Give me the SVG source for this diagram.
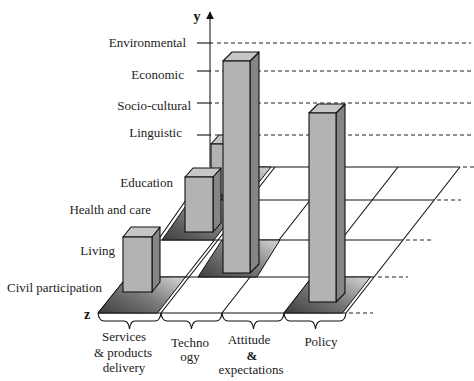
<svg xmlns="http://www.w3.org/2000/svg" width="474" height="381" viewBox="0 0 474 381">
<defs>
<linearGradient id="tileGrad" x1="0" y1="1" x2="1" y2="0.2">
<stop offset="0" stop-color="#3e3e3e"/>
<stop offset="0.55" stop-color="#7a7a7a"/>
<stop offset="1" stop-color="#c8c8c8"/>
</linearGradient>
<marker id="arrow" viewBox="0 0 10 10" refX="9" refY="5" markerWidth="8" markerHeight="10" markerUnits="userSpaceOnUse" orient="auto">
<path d="M0,0 L10,5 L0,10 z" fill="#111"/>
</marker>
<style>
text{font-family:'Liberation Serif','Times New Roman',serif;font-size:13px;fill:#222}
.axl{font-weight:bold;font-size:14px;fill:#111}
.lbl{text-anchor:end}
.col{text-anchor:middle}
.tick{stroke:#222;stroke-width:1.2;fill:none}
.dash{stroke:#222;stroke-width:1.2;stroke-dasharray:4 3;fill:none}
.grid{stroke:#111;stroke-width:1.1;fill:none}
.tile{fill:url(#tileGrad);stroke:#111;stroke-width:1}
.front{fill:#b3b3b3;stroke:#111;stroke-width:1.1}
.top{fill:#c6c6c6;stroke:#111;stroke-width:1.1;stroke-linejoin:round}
.side{fill:#858585;stroke:#111;stroke-width:1.1;stroke-linejoin:round}
.brace{stroke:#111;stroke-width:1.1;fill:none}
</style>
</defs>
<rect width="474" height="381" fill="#fff"/>

<g id="connectors">
<line x1="210" y1="167" x2="210" y2="12" stroke="#333" stroke-width="1.2" marker-end="url(#arrow)"/>
<line class="tick" x1="197" y1="43" x2="213" y2="43"/><line class="dash" x1="217" y1="43" x2="471" y2="43"/>
<line class="tick" x1="197" y1="71" x2="211" y2="71"/><line class="dash" x1="215" y1="71" x2="471" y2="71"/>
<line class="tick" x1="197" y1="103" x2="212" y2="103"/><line class="dash" x1="215" y1="103" x2="471" y2="103"/>
<line class="tick" x1="197" y1="135" x2="211" y2="135"/><line class="dash" x1="215" y1="135" x2="471" y2="135"/>

<line class="grid" x1="98" y1="313" x2="346" y2="313"/><line class="dash" x1="349" y1="313" x2="373" y2="313"/>
<line class="grid" x1="127" y1="277" x2="374" y2="277"/><line class="dash" x1="378" y1="277" x2="408" y2="277"/>
<line class="grid" x1="158" y1="240" x2="403" y2="240"/><line class="dash" x1="406" y1="240" x2="433" y2="240"/>
<line class="grid" x1="186" y1="200" x2="434" y2="200"/><line class="dash" x1="437" y1="200" x2="461" y2="200"/>
<line class="grid" x1="212" y1="167" x2="460" y2="167"/><line class="dash" x1="463" y1="167" x2="474" y2="167"/>
<polyline class="grid" points="98,313 127,277 158,240 186,200 212,167"/>
<line class="grid" x1="161" y1="313" x2="275" y2="167"/>
<line class="grid" x1="222" y1="313" x2="336" y2="167"/>
<line class="grid" x1="284" y1="313" x2="398" y2="167"/>
<line class="grid" x1="346" y1="313" x2="460" y2="167"/>
<line class="grid" x1="185.5" y1="277" x2="214.5" y2="240"/>

<path class="brace" d="M98,313 Q99,321 104,321 L124,321 Q128.5,321 129.5,329 Q130.5,321 135,321 L155,321 Q160,321 161,313"/>
<path class="brace" d="M161,313 Q162,321 167,321 L186,321 Q190.5,321 191.5,329 Q192.5,321 197,321 L216,321 Q221,321 222,313"/>
<path class="brace" d="M222,313 Q223,321 228,321 L248,321 Q252.5,321 253.5,329 Q254.5,321 259,321 L278,321 Q283,321 284,313"/>
<path class="brace" d="M284,313 Q285,321 290,321 L310,321 Q314.5,321 315.5,329 Q316.5,321 321,321 L340,321 Q345,321 346,313"/>
</g>

<g id="tiles">
<polygon id="tile-services-civil" class="tile" points="98,313 157.5,313 185.5,277 127,277"/>
<polygon id="tile-services-education" class="tile" points="186,200 245,200 271,167 212,167"/>
<polygon id="tile-services-health" class="tile" points="162,240 214,240 245,200 190,200"/>
<polygon id="tile-technology-living" class="tile" points="198,277 257,277 280,240 222,240"/>
<polygon id="tile-policy-civil" class="tile" points="284,313 342.5,313 370.5,277 312,277"/>
</g>

<g id="bar-services-education">
<polygon class="side" points="238,144 246,135 246,186 238,195"/>
<polygon class="top" points="211,144 219,135 246,135 238,144"/>
<rect class="front" x="211" y="144" width="27" height="51"/>
</g>
<g id="bar-services-health">
<polygon class="side" points="213,177 221,168 221,223 213,232"/>
<polygon class="top" points="185,177 193,168 221,168 213,177"/>
<rect class="front" x="185" y="177" width="28" height="55"/>
</g>
<g id="bar-technology-living">
<polygon class="side" points="250,61 259,52 259,264 250,273"/>
<polygon class="top" points="223,61 232,52 259,52 250,61"/>
<rect class="front" x="223" y="61" width="27" height="212"/>
</g>
<g id="bar-policy-civil">
<polygon class="side" points="336,113 345,104 345,293 336,302"/>
<polygon class="top" points="309,113 318,104 345,104 336,113"/>
<rect class="front" x="309" y="113" width="27" height="189"/>
</g>
<g id="bar-services-civil">
<polygon class="side" points="152,237 160,227 160,282 152,292"/>
<polygon class="top" points="123,237 131,227 160,227 152,237"/>
<rect class="front" x="123" y="237" width="29" height="55"/>
</g>

<g id="axis-labels" font-family="'Liberation Serif', serif">
<text class="axl" x="197" y="21" text-anchor="middle">y</text>
<text class="axl" x="87" y="319" text-anchor="middle">z</text>
</g>

<g id="y-labels" font-family="'Liberation Serif', serif">
<text class="lbl" x="186" y="47">Environmental</text>
<text class="lbl" x="184" y="79">Economic</text>
<text class="lbl" x="191" y="110">Socio-cultural</text>
<text class="lbl" x="182" y="137">Linguistic</text>
</g>

<g id="z-labels" font-family="'Liberation Serif', serif">
<text class="lbl" x="173" y="187">Education</text>
<text class="lbl" x="151" y="214">Health and care</text>
<text class="lbl" x="115" y="255">Living</text>
<text class="lbl" x="102" y="292">Civil participation</text>
</g>

<g id="x-labels" font-family="'Liberation Serif', serif">
<g id="label-services">
<text class="col" x="124" y="341">Services</text>
<text class="col" x="123" y="357">&amp; products</text>
<text class="col" x="124" y="372">delivery</text>
</g>
<g id="label-technology">
<text class="col" x="190" y="347">Techno</text>
<text class="col" x="190" y="361">ogy</text>
</g>
<g id="label-attitude">
<text class="col" x="249" y="344">Attitude</text>
<text class="col" x="252" y="360" font-weight="bold">&amp;</text>
<text class="col" x="251" y="374">expectations</text>
</g>
<g id="label-policy">
<text class="col" x="321" y="346">Policy</text>
</g>
</g>
</svg>
